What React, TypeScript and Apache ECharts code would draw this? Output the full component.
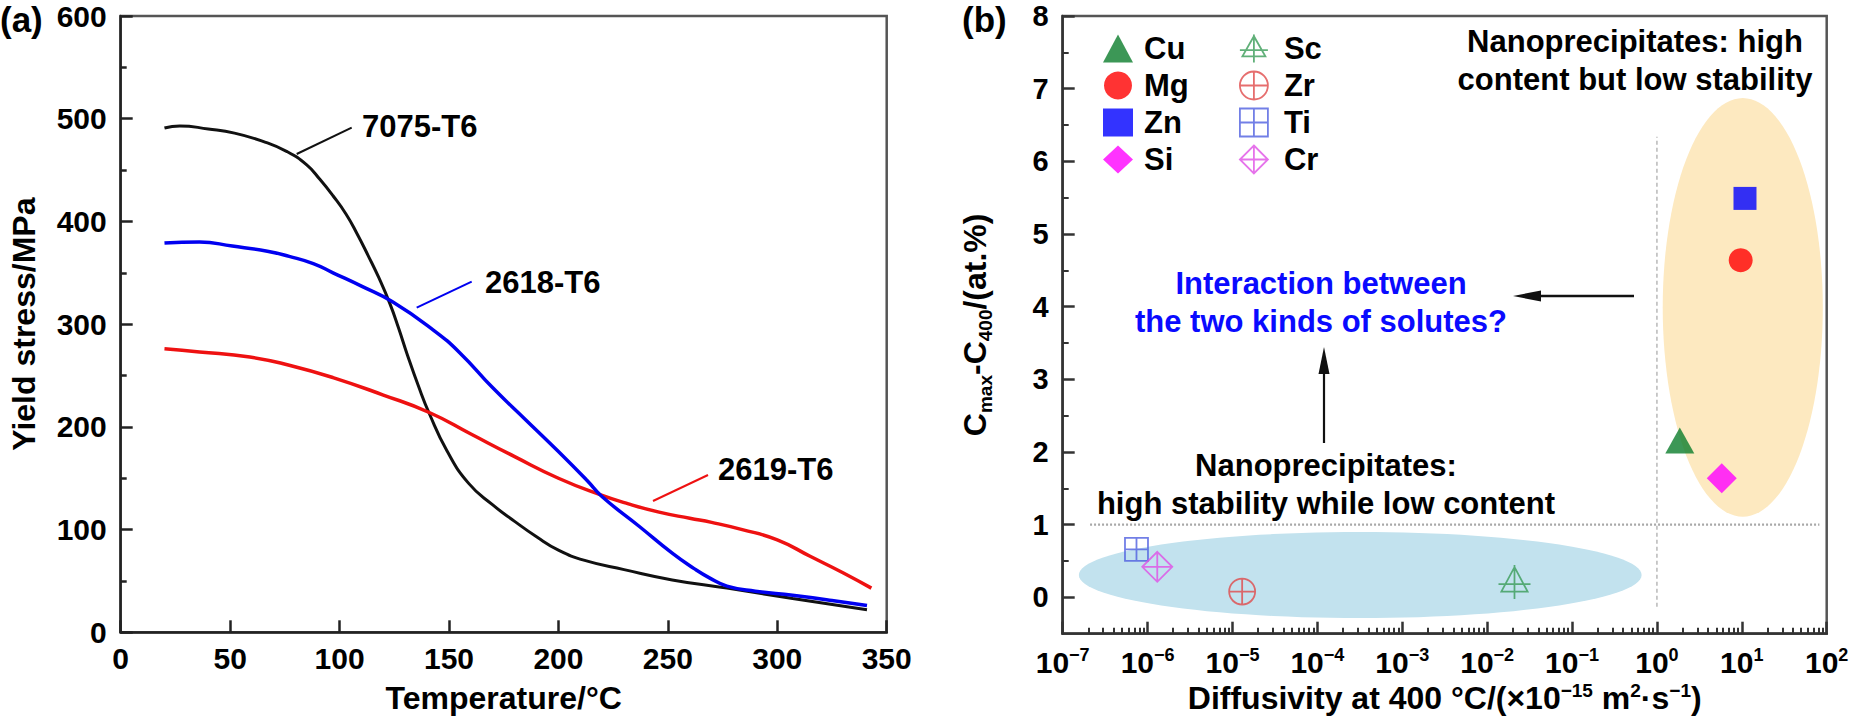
import React, { useEffect, useRef } from 'react';
import * as echarts from 'echarts';

const FONT = '"Liberation Sans", Arial, Helvetica, sans-serif';

// ---- (a) yield stress of three Al alloys against temperature ----
const temp7075 = [20, 27, 40, 52, 65, 76, 85, 91, 97, 103, 108, 113, 118, 123, 127, 131, 136, 141, 149, 159, 170, 180, 190, 200, 212, 230, 252, 277, 307, 341];
const stress7075 = [491, 493, 490, 486, 478, 468, 455, 441, 425, 407, 388, 367, 345, 320, 296, 270, 240, 213, 177, 145, 124, 108, 93, 80, 70, 61, 51, 43, 33, 22];
const temp2618 = [20, 36, 51, 67, 77, 88, 97, 110, 124, 143, 155, 170, 185, 200, 213, 220, 237, 252, 262, 269, 277, 290, 307, 325, 341];
const stress2618 = [379, 380, 376, 371, 366, 359, 350, 337, 322, 294, 272, 238, 207, 176, 148, 132, 103, 77, 62, 53, 45, 40, 36, 31, 26];
const temp2619 = [20, 36, 59, 77, 97, 120, 141, 160, 180, 200, 219, 232, 246, 260, 270, 284, 300, 315, 330, 343];
const stress2619 = [276, 273, 268, 260, 248, 231, 214, 193, 171, 150, 134, 125, 117, 111, 107, 100, 90, 74, 58, 43];
const alloyNames = ['7075-T6', '2619-T6', '2618-T6'];
const alloyColors = ['#111111', '#ee1111', '#0000f0'];

// ---- (b) solute content window against diffusivity at 400 °C ----
const solutes = ['Cu', 'Mg', 'Zn', 'Si', 'Sc', 'Zr', 'Ti', 'Cr'];
const diffusivity = [1.86, 9.7, 10.9, 5.8, 0.021, 1.3e-5, 7.4e-7, 1.3e-6];
const contentGap = [2.16, 4.64, 5.49, 1.64, 0.21, 0.08, 0.66, 0.42];
const soluteColors = ['#0b7d2c', '#ff0000', '#0000ff', '#ff00ff', '#3a9c58', '#e04a4a', '#4f5fe0', '#e050e6'];
const soluteFilled = [true, true, true, true, false, false, false, false];

const SC_PATH = 'path://M50,0 L50,100 M50,6 L9,78 L91,78 Z M0,56 L100,56';
const ZR_PATH = 'path://M5,50 A45,45 0 1,0 95,50 A45,45 0 1,0 5,50 Z M50,5 L50,95 M5,50 L95,50';
const TI_PATH = 'path://M5,5 L95,5 L95,95 L5,95 Z M50,5 L50,95 M5,50 L95,50';
const CR_PATH = 'path://M50,2 L98,50 L50,98 L2,50 Z M50,2 L50,98 M2,50 L98,50';
const soluteSymbols = ['triangle', 'circle', 'rect', 'diamond', SC_PATH, ZR_PATH, TI_PATH, CR_PATH];
const soluteSizes: (number | number[])[] = [[29, 26], 24, 23, [30, 30], [32, 34], 26, 23, [30, 30]];

const diffusivityDecades = [1e-7, 1e-6, 1e-5, 1e-4, 1e-3, 1e-2, 1e-1, 1, 10, 100];
const diffusivityMinorTicks: number[] = [];
for (let e = -7; e < 2; e++) {
  for (let k = 2; k <= 9; k++) diffusivityMinorTicks.push(Number((k * Math.pow(10, e)).toPrecision(3)));
}
const contentTicks = [0, 1, 2, 3, 4, 5, 6, 7, 8];
const contentMinorTicks = [0.5, 1.5, 2.5, 3.5, 4.5, 5.5, 6.5, 7.5];

// shaded zones: [xMin, xMax, yMin, yMax]
const stableZone = [1.55e-7, 0.66, -0.285, 0.9];
const richZone = [1.17, 90, 1.11, 6.87];
const zoneColors = ['#c2e2ee', '#fde9c0'];

// guide lines
const contentThreshold = [[2.1e-7, 1], [82, 1]];
const diffusivityThreshold = [[1, -0.13], [1, 6.34]];

const zip = (xs: number[], ys: number[]) => xs.map((x, i) => [x, ys[i]]);

const supMinus = (e: number) => (e < 0 ? '\u2212' + Math.abs(e) : String(e));

function buildOption() {
  const bold = { fontWeight: 'bold' as const, color: '#000', fontFamily: FONT };

  const curves = [
    zip(temp7075, stress7075),
    zip(temp2619, stress2619),
    zip(temp2618, stress2618),
  ];

  const lineSeries = curves.map((data, i) => ({
    type: 'line',
    name: alloyNames[i],
    xAxisIndex: 0,
    yAxisIndex: 0,
    data,
    smooth: 0.5,
    symbol: 'none',
    lineStyle: { color: alloyColors[i], width: i === 0 ? 3 : 3.5 },
    z: 3,
  }));

  const scatterSeries = solutes.map((name, i) => ({
    type: 'scatter',
    name,
    xAxisIndex: 1,
    yAxisIndex: 1,
    data: [[diffusivity[i], contentGap[i]]],
    symbol: soluteSymbols[i],
    symbolSize: soluteSizes[i],
    itemStyle: soluteFilled[i]
      ? { color: soluteColors[i] }
      : { color: 'rgba(0,0,0,0)', borderColor: soluteColors[i], borderWidth: 1.8 },
    z: 5,
  }));

  const legendItem = (name: string) => {
    const i = solutes.indexOf(name);
    return soluteFilled[i]
      ? { name, icon: soluteSymbols[i], itemStyle: { color: soluteColors[i] } }
      : {
          name,
          icon: soluteSymbols[i],
          itemStyle: { color: 'rgba(0,0,0,0)', borderColor: soluteColors[i], borderWidth: 1.8 },
        };
  };

  const legendBase = {
    orient: 'vertical',
    top: 33,
    itemHeight: 28,
    itemGap: 6,
    padding: 0,
    selectedMode: false,
  };

  const text = (t: string, x: number, y: number, size: number, fill = '#000', align = 'center') => ({
    type: 'text',
    x,
    y,
    z: 100,
    style: {
      text: t,
      fill,
      font: `bold ${size}px ${FONT}`,
      align,
      textAlign: align,
      verticalAlign: 'middle',
      textVerticalAlign: 'middle',
    },
  });
  const seg = (x1: number, y1: number, x2: number, y2: number, stroke: string, w: number) => ({
    type: 'line',
    z: 100,
    shape: { x1, y1, x2, y2 },
    style: { stroke, lineWidth: w },
  });
  const head = (pts: number[][]) => ({
    type: 'polygon',
    z: 100,
    shape: { points: pts },
    style: { fill: '#111' },
  });

  return {
    animation: false,
    backgroundColor: '#ffffff',
    textStyle: { fontFamily: FONT },
    grid: [
      { left: 120.7, top: 16, right: 963.3, bottom: 85.7, show: true, borderColor: '#555', borderWidth: 2.5, containLabel: false, outerBoundsMode: 'none' },
      { left: 1062.7, top: 16, right: 23.3, bottom: 84.3, show: true, borderColor: '#555', borderWidth: 2.5, containLabel: false, outerBoundsMode: 'none' },
    ],
    xAxis: [
      {
        gridIndex: 0,
        type: 'value',
        min: 0,
        max: 350,
        interval: 50,
        name: 'Temperature/°C',
        nameLocation: 'middle',
        nameGap: 50,
        nameMoveOverlap: false,
        nameTextStyle: { ...bold, fontSize: 32 },
        axisLine: { onZero: false, lineStyle: { color: '#222', width: 2.5 } },
        axisTick: { inside: true, length: 12, lineStyle: { color: '#222', width: 2.5 } },
        axisLabel: { ...bold, fontSize: 30, margin: 11 },
        splitLine: { show: false },
      },
      {
        gridIndex: 1,
        type: 'log',
        logBase: 10,
        min: 1e-7,
        max: 100,
        name:
          '{m|Diffusivity at 400 °C/(×10}{s|\u221215}{m| m}{s|2}{m|·s}{s|\u22121}{m|)}',
        nameLocation: 'middle',
        nameGap: 47,
        nameMoveOverlap: false,
        nameTextStyle: {
          rich: {
            m: { ...bold, fontSize: 32, lineHeight: 34 },
            s: { ...bold, fontSize: 19, lineHeight: 19, verticalAlign: 'top' },
          },
        },
        axisLine: { onZero: false, lineStyle: { color: '#333', width: 2.5 } },
        axisTick: { inside: true, length: 12, customValues: diffusivityDecades, lineStyle: { color: '#333', width: 2.5 } },
        axisLabel: {
          customValues: diffusivityDecades,
          margin: 12,
          formatter: (v: number) => `{b|10}{s|${supMinus(Math.round(Math.log10(v)))}}`,
          rich: {
            b: { ...bold, fontSize: 30, lineHeight: 34 },
            s: { ...bold, fontSize: 18, lineHeight: 18, verticalAlign: 'top' },
          },
        },
        splitLine: { show: false },
        minorTick: { show: false },
      },
      {
        gridIndex: 1,
        type: 'log',
        logBase: 10,
        min: 1e-7,
        max: 100,
        position: 'bottom',
        axisLine: { show: false, onZero: false },
        axisTick: { inside: true, length: 6, customValues: diffusivityMinorTicks, lineStyle: { color: '#333', width: 2 } },
        axisLabel: { show: false },
        splitLine: { show: false },
      },
    ],
    yAxis: [
      {
        gridIndex: 0,
        type: 'value',
        min: 0,
        max: 600,
        interval: 100,
        name: 'Yield stress/MPa',
        nameLocation: 'middle',
        nameRotate: 90,
        nameGap: 81,
        nameMoveOverlap: false,
        nameTextStyle: { ...bold, fontSize: 32 },
        axisLine: { onZero: false, lineStyle: { color: '#222', width: 2.5 } },
        axisTick: { inside: true, length: 12, lineStyle: { color: '#222', width: 2.5 } },
        minorTick: { show: true, splitNumber: 2, length: 6, lineStyle: { color: '#222', width: 2.5 } },
        axisLabel: { ...bold, fontSize: 30, margin: 14 },
        splitLine: { show: false },
        minorSplitLine: { show: false },
      },
      {
        gridIndex: 1,
        type: 'value',
        min: -0.5,
        max: 8,
        position: 'left',
        name: '{m|C}{sub|max}{m|-C}{sub|400}{m|/(at.%)}',
        nameLocation: 'middle',
        nameRotate: 90,
        nameGap: 68,
        nameMoveOverlap: false,
        nameTextStyle: {
          rich: {
            m: { ...bold, fontSize: 32, lineHeight: 40 },
            sub: { ...bold, fontSize: 19, lineHeight: 19, verticalAlign: 'bottom' },
          },
        },
        axisLine: { onZero: false, lineStyle: { color: '#333', width: 2.5 } },
        axisTick: { inside: true, length: 12, customValues: contentTicks, lineStyle: { color: '#333', width: 2.5 } },
        axisLabel: { ...bold, fontSize: 29, margin: 14, customValues: contentTicks },
        splitLine: { show: false },
      },
      {
        gridIndex: 1,
        type: 'value',
        min: -0.5,
        max: 8,
        position: 'left',
        offset: 0,
        axisLine: { show: false, onZero: false },
        axisTick: { inside: true, length: 6, customValues: contentMinorTicks, lineStyle: { color: '#333', width: 2 } },
        axisLabel: { show: false },
        splitLine: { show: false },
      },
    ],
    legend: [
      {
        ...legendBase,
        left: 1103,
        itemWidth: 30,
        data: solutes.slice(0, 4).map(legendItem),
        textStyle: { ...bold, fontSize: 31, padding: [0, 0, 0, 6] },
      },
      {
        ...legendBase,
        left: 1239,
        itemWidth: 32,
        data: solutes.slice(4).map(legendItem),
        textStyle: { ...bold, fontSize: 31, padding: [0, 0, 0, 9] },
      },
    ],
    series: [
      ...lineSeries,
      {
        type: 'custom',
        name: 'zones',
        xAxisIndex: 1,
        yAxisIndex: 1,
        data: [stableZone, richZone],
        encode: { x: [0, 1], y: [2, 3] },
        silent: true,
        z: 1,
        renderItem: (params: any, api: any) => {
          const p0 = api.coord([api.value(0), api.value(2)]);
          const p1 = api.coord([api.value(1), api.value(3)]);
          const cx = (p0[0] + p1[0]) / 2;
          const cy = (p0[1] + p1[1]) / 2;
          const rx = Math.abs(p1[0] - p0[0]) / 2;
          const ry = Math.abs(p1[1] - p0[1]) / 2;
          const pts: number[][] = [];
          for (let i = 0; i < 120; i++) {
            const a = (i / 120) * Math.PI * 2;
            pts.push([cx + rx * Math.cos(a), cy + ry * Math.sin(a)]);
          }
          return { type: 'polygon', shape: { points: pts }, style: { fill: zoneColors[params.dataIndex] } };
        },
      },
      {
        type: 'line',
        name: 'content threshold',
        xAxisIndex: 1,
        yAxisIndex: 1,
        data: contentThreshold,
        symbol: 'none',
        silent: true,
        lineStyle: { color: '#a8a8a8', width: 2.2, type: [2, 2] },
        z: 2,
      },
      {
        type: 'line',
        name: 'diffusivity threshold',
        xAxisIndex: 1,
        yAxisIndex: 1,
        data: diffusivityThreshold,
        symbol: 'none',
        silent: true,
        lineStyle: { color: '#b8b8b8', width: 1.5, type: [4, 3] },
        z: 2,
      },
      ...scatterSeries,
    ],
    graphic: [
      text('(a)', 0, 19, 35, '#000', 'left'),
      text('(b)', 962, 19, 35, '#000', 'left'),
      // alloy labels with leader lines
      text('7075-T6', 362, 126, 31, '#000', 'left'),
      seg(296.7, 154, 351.7, 127.7, '#111', 2),
      text('2618-T6', 485, 282, 31, '#000', 'left'),
      seg(416.7, 307.7, 471.7, 281.7, '#0000f0', 2),
      text('2619-T6', 718, 469, 31, '#000', 'left'),
      seg(653, 501, 708, 475, '#ee1111', 2),
      // annotations of panel (b)
      text('Nanoprecipitates: high', 1635, 41, 31),
      text('content but low stability', 1635, 79, 31),
      text('Interaction between', 1321, 283, 31, '#0a0aff'),
      text('the two kinds of solutes?', 1321, 321, 31, '#0a0aff'),
      text('Nanoprecipitates:', 1326, 465, 31),
      text('high stability while low content', 1326, 503, 31),
      seg(1538, 296, 1634, 296, '#111', 2.5),
      head([[1513, 296], [1541, 290.5], [1541, 301.5]]),
      seg(1324, 370, 1324, 443, '#111', 2.2),
      head([[1324, 347], [1318.5, 374], [1329.5, 374]]),
    ],
  };
}

export default function App() {
  const ref = useRef<HTMLDivElement>(null);

  useEffect(() => {
    if (!ref.current) return;
    const chart = echarts.init(ref.current, undefined, { renderer: 'svg' });
    chart.setOption(buildOption() as any);
    return () => chart.dispose();
  }, []);

  return (
    <div
      ref={ref}
      style={{ position: 'fixed', left: 0, top: 0, width: 1850, height: 718, background: '#fff' }}
    />
  );
}
